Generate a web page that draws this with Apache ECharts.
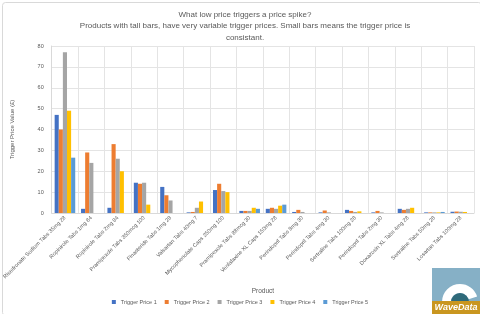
<!DOCTYPE html>
<html><head><meta charset="utf-8">
<script src="https://cdn.jsdelivr.net/npm/echarts@6/dist/echarts.min.js"></script>
<style>html,body{margin:0;padding:0;background:#fff}#c{width:480px;height:314px}</style>
</head><body><div id="c"></div>
<script>
const categories = [
  "Risedronate Sodium Tabs 35mg 28","Ropinirole Tabs 1mg 84","Ropinirole Tabs 2mg 84",
  "Pramipexole Tabs 350mcg 100","Finasteride Tabs 1mg 28","Valsartan Tabs 40mg 7",
  "Mycophenolate Caps 250mg 100","Pramipexole Tabs 88mcg 30","Venlafaxine XL Caps 150mg 28",
  "Perindopril Tabs 8mg 30","Perindopril Tabs 4mg 30","Sertraline Tabs 100mg 28",
  "Perindopril Tabs 2mg 30","Doxazosin XL Tabs 4mg 28","Sertraline Tabs 50mg 28",
  "Losartan Tabs 100mg 28"
];
const seriesNames = ["Trigger Price 1","Trigger Price 2","Trigger Price 3","Trigger Price 4","Trigger Price 5"];
const price1 = [47, 2, 2.5, 14.5, 12.5, 0.3, 11, 1, 2, 0.5, 0.3, 1.5, 0.3, 2, 0.3, 0.6];
const price2 = [40, 29, 33, 14, 8.5, 0.5, 14, 1, 2.5, 1.5, 1.2, 1, 1, 1.5, 0.3, 0.7];
const price3 = [77, 24, 26, 14.5, 6, 2.5, 10.5, 1, 2, 0.5, 0.3, 0.5, 0.3, 2, 0.3, 0.6];
const price4 = [49, null, 20, 4, null, 5.5, 10, 2.5, 3.5, null, null, 0.8, null, 2.5, 0.3, 0.5];
const price5 = [26.5, null, null, null, null, null, null, 2, 4, null, null, null, null, null, 0.5, null];
const colors = ["#4472C4","#ED7D31","#A5A5A5","#FFC000","#5B9BD5"];
const yTicks = {min: 0, max: 80, interval: 10};

const chart = echarts.init(document.getElementById('c'), null, {renderer: 'canvas'});
const txt = '#595959';
const font = 'Liberation Sans';
const allData = [price1, price2, price3, price4, price5];
chart.setOption({
  animation: false,
  backgroundColor: '#fff',
  textStyle: {fontFamily: font},
  title: {
    text: 'What low price triggers a price spike?\nProducts with tall bars, have very variable trigger prices. Small bars means the trigger price is\nconsistant.',
    left: 240, top: 4, textAlign: 'center',
    textStyle: {fontSize: 8, fontWeight: 'normal', color: txt, lineHeight: 11.5, fontFamily: font, align: 'center'}
  },
  color: colors,
  legend: {
    data: seriesNames, bottom: 4, left: 'center',
    itemWidth: 4, itemHeight: 4, itemGap: 8, icon: 'rect',
    textStyle: {fontSize: 5.5, color: txt, fontFamily: font}
  },
  grid: {left: 50, right: 6, top: 46, bottom: 101, containLabel: false},
  xAxis: {
    type: 'category', data: categories,
    name: 'Product', nameLocation: 'middle', nameGap: 75,
    nameTextStyle: {fontSize: 6.5, color: txt},
    axisLine: {lineStyle: {color: '#d9d9d9'}},
    axisTick: {show: false},
    axisLabel: {rotate: 45, fontSize: 5.5, color: txt, interval: 0, margin: 4},
    splitLine: {show: true, interval: 0, lineStyle: {color: '#e4e4e4', width: 1}}
  },
  yAxis: {
    type: 'value', min: yTicks.min, max: yTicks.max, interval: yTicks.interval,
    name: 'Trigger Price Value (£)', nameLocation: 'middle', nameGap: 36, nameRotate: 90,
    nameTextStyle: {fontSize: 6, color: txt},
    axisLine: {show: true, lineStyle: {color: '#d9d9d9'}},
    axisLabel: {fontSize: 5.5, color: txt, margin: 8},
    splitLine: {lineStyle: {color: '#e4e4e4'}}
  },
  series: seriesNames.map((n, i) => ({
    name: n, type: 'bar', data: allData[i],
    barGap: '0%', barCategoryGap: '22%',
    itemStyle: {color: colors[i]}
  })),
  graphic: [
    {type: 'rect', left: 0, top: 0, shape: {width: 479, height: 313, r: 3}, style: {fill: 'none', stroke: '#d9d9d9', lineWidth: 1}, silent: true},
    {type: 'group', left: 432, top: 268, children: [
      {type: 'rect', shape: {x: 0, y: 0, width: 48, height: 46}, style: {fill: '#86b0c6'}},
      {type: 'sector', shape: {cx: 28, cy: 34, r0: 9, r: 18, startAngle: Math.PI, endAngle: Math.PI * 1.9}, style: {fill: '#ffffff'}},
      {type: 'circle', shape: {cx: 28, cy: 34, r: 9}, style: {fill: '#2f6a7a'}},
      {type: 'rect', shape: {x: 0, y: 33, width: 48, height: 13}, style: {fill: '#c9961f'}},
      {type: 'text', style: {x: 24, y: 40, text: 'WaveData', fill: '#ffffff', fontSize: 9, fontStyle: 'italic', fontWeight: 'bold', align: 'center', verticalAlign: 'middle', fontFamily: font}}
    ]}
  ]
});
</script></body></html>
